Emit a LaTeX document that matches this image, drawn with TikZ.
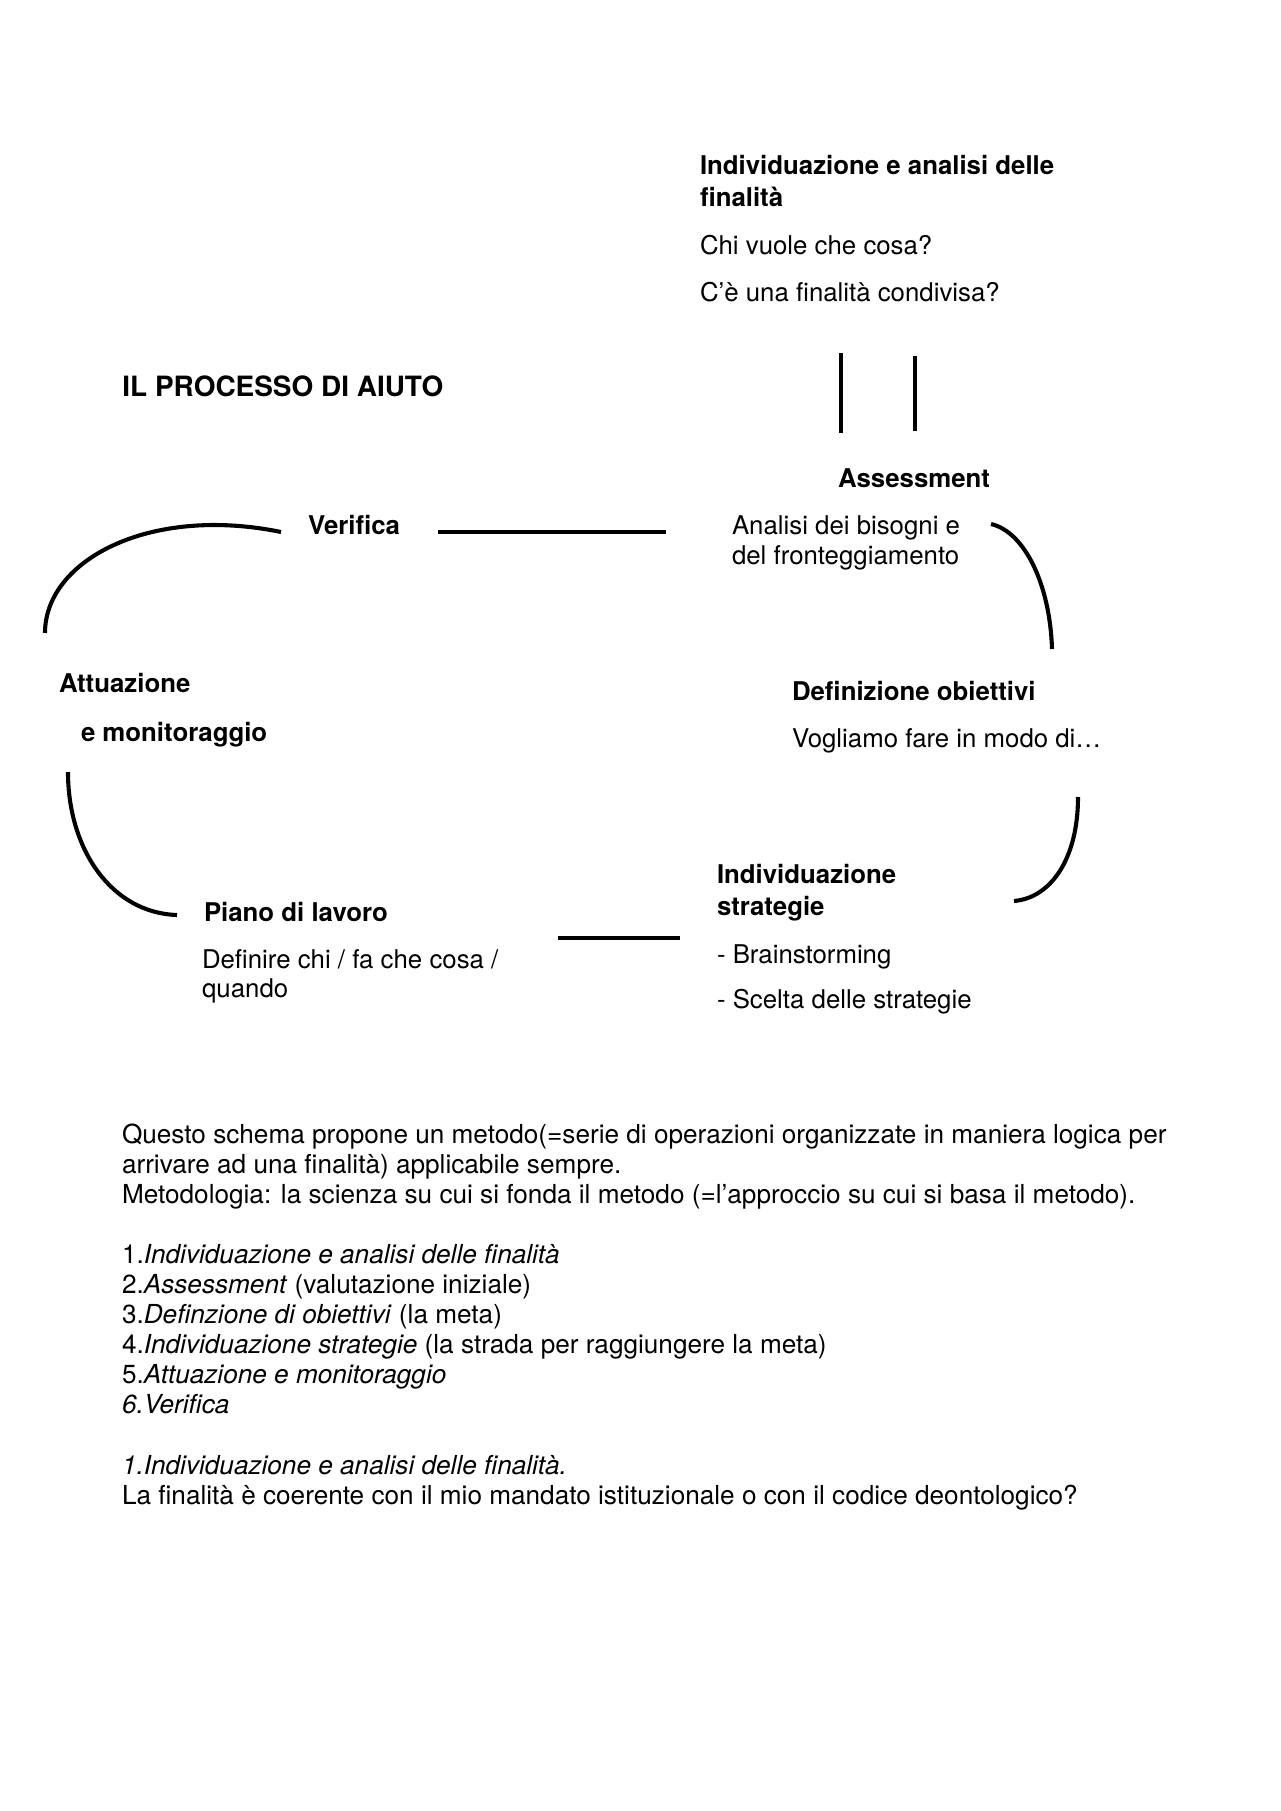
\documentclass[tikz,border=0pt]{standalone}
\usepackage{fontspec}
\setmainfont{TeX Gyre Heros}
\begin{document}
\begin{tikzpicture}[x=0.46506pt,y=-0.46506pt,
  lbl/.style={anchor=base west,inner sep=0pt,outer sep=0pt,font=\fontsize{12pt}{14pt}\selectfont},
  blbl/.style={lbl,font=\fontsize{12pt}{14pt}\selectfont\bfseries},
  body/.style={lbl,font=\fontsize{12.17pt}{14pt}\selectfont},
  curve/.style={line width=1.9pt,line cap=butt}
]
\useasboundingbox[fill=white] (0,0) rectangle (1280,1811);

% title
\node[anchor=base west,inner sep=0pt,font=\fontsize{13pt}{15pt}\selectfont\bfseries] (title) at (122,396) {IL PROCESSO DI AIUTO};

% top block
\node[blbl] (fin1) at (700,175) {Individuazione e analisi delle};
\node[blbl] (fin2) at (700,207) {finalità};
\node[lbl] (finq1) at (700,255) {Chi vuole che cosa?};
\node[lbl] (finq2) at (700,302) {C’è una finalità condivisa?};

% assessment
\node[blbl] (ass) at (838,487) {Assessment};
\node[lbl] (ass1) at (732,534) {Analisi dei bisogni e};
\node[lbl] (ass2) at (732,564) {del fronteggiamento};

% verifica
\node[blbl] (ver) at (308,534) {Verifica};

% attuazione
\node[blbl] (att1) at (59,692) {Attuazione};
\node[blbl] (att2) at (81,741) {e monitoraggio};

% definizione obiettivi
\node[blbl] (def) at (792,700) {Definizione obiettivi};
\node[lbl] (def1) at (792,747) {Vogliamo fare in modo di…};

% strategie
\node[blbl] (str1) at (717,883) {Individuazione};
\node[blbl] (str2) at (717,915) {strategie};
\node[lbl] (str3) at (717,963) {- Brainstorming};
\node[lbl] (str4) at (717,1008) {- Scelta delle strategie};

% piano di lavoro
\node[blbl] (pia) at (204,921) {Piano di lavoro};
\node[lbl] (pia1) at (202,968) {Definire chi / fa che cosa /};
\node[lbl] (pia2) at (202,997) {quando};

% connector end points
\coordinate (v1a) at (841,353); \coordinate (v1b) at (841,433);
\coordinate (v2a) at (915,356); \coordinate (v2b) at (915,431);
\coordinate (h1a) at (438,532); \coordinate (h1b) at (666,532);
\coordinate (h2a) at (558,938); \coordinate (h2b) at (680,938);
\coordinate (c1a) at (45,633);  \coordinate (c1b) at (281,532);
\coordinate (c2a) at (68,772);  \coordinate (c2b) at (177,915);
\coordinate (c3a) at (991,524); \coordinate (c3b) at (1052,649);
\coordinate (c4a) at (1078,797);\coordinate (c4b) at (1014,901);

\draw[curve] (v1a) -- (v1b);
\draw[curve] (v2a) -- (v2b);
\draw[curve] (h1a) -- (h1b);
\draw[curve,line width=2.2pt] (h2a) -- (h2b);
\draw[curve] (c1a) .. controls (45,560) and (150,505) .. (c1b);
\draw[curve] (c2a) .. controls (68,850) and (112,913) .. (c2b);
\draw[curve] (c3a) .. controls (1025,532) and (1050,585) .. (c3b);
\draw[curve] (c4a) .. controls (1078,860) and (1050,898) .. (c4b);

% bottom text
\node[body] (b1) at (122,1143) {Questo schema propone un metodo(=serie di operazioni organizzate in maniera logica per};
\node[body] (b2) at (122,1173.1) {arrivare ad una finalità) applicabile sempre.};
\node[body] (b3) at (122,1203.2) {Metodologia: la scienza su cui si fonda il metodo (=l’approccio su cui si basa il metodo).};
\node[body] (b5) at (122,1263.4) {1.\textit{Individuazione e analisi delle finalità}};
\node[body] (b6) at (122,1293.5) {2.\textit{Assessment} (valutazione iniziale)};
\node[body] (b7) at (122,1323.6) {3.\textit{Definzione di obiettivi} (la meta)};
\node[body] (b8) at (122,1353.7) {4.\textit{Individuazione strategie} (la strada per raggiungere la meta)};
\node[body] (b9) at (122,1383.8) {5.\textit{Attuazione e monitoraggio}};
\node[body] (b10) at (122,1413.9) {\textit{6.Verifica}};
\node[body] (b12) at (122,1474.1) {\textit{1.Individuazione e analisi delle finalità.}};
\node[body] (b13) at (122,1504.2) {La finalità è coerente con il mio mandato istituzionale o con il codice deontologico?};
\end{tikzpicture}
\end{document}
